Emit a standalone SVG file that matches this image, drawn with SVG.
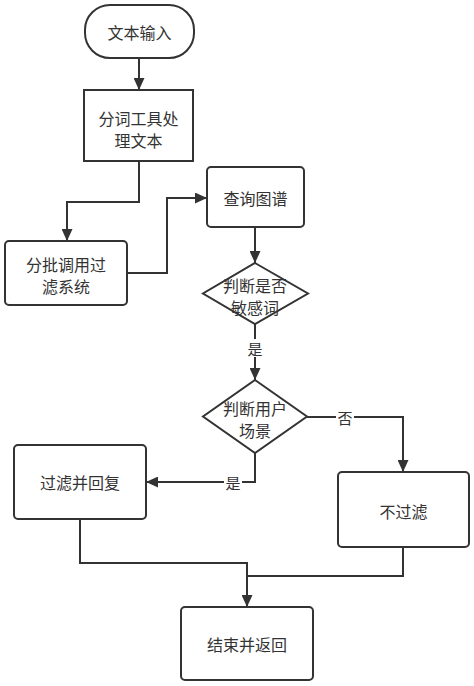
<svg xmlns="http://www.w3.org/2000/svg" width="474" height="686" viewBox="0 0 474 686">
<defs>
<marker id="arr" markerUnits="userSpaceOnUse" markerWidth="12" markerHeight="11" refX="12" refY="5.5" orient="auto">
<path d="M0,0 L12,5.5 L0,11 z" fill="#333"/>
</marker>
<style>
.n{fill:#fff;stroke:#333;stroke-width:2}
.t{font-family:"Noto Sans CJK SC","Noto Sans",sans-serif;font-size:16px;fill:#333;text-anchor:middle;dominant-baseline:central}
.c{fill:none;stroke:#333;stroke-width:2}
.l{font-family:"Noto Sans CJK SC","Noto Sans",sans-serif;font-size:15px;fill:#333;text-anchor:middle;dominant-baseline:central}
.bg{fill:#fff}
</style>
</defs>
<rect width="474" height="686" fill="#fff"/>
<g id="connectors">
<path class="c" d="M139,58 V90" marker-end="url(#arr)"/>
<path class="c" d="M139,161 V202 H67 V241" marker-end="url(#arr)"/>
<path class="c" d="M127,273 H167 V198 H207" marker-end="url(#arr)"/>
<path class="c" d="M255,227 V263" marker-end="url(#arr)"/>
<path class="c" d="M255,324 V380" marker-end="url(#arr)"/>
<path class="c" d="M307,417 H403 V472" marker-end="url(#arr)"/>
<path class="c" d="M255,453 V482 H146" marker-end="url(#arr)"/>
<path class="c" d="M80,519 V563 H247 V607" marker-end="url(#arr)"/>
<path class="c" d="M403,547 V576 H247"/>
<rect class="bg" x="246" y="339" width="18" height="18"/>
<text class="l" x="255" y="348">是</text>
<rect class="bg" x="336" y="408" width="18" height="18"/>
<text class="l" x="345" y="417">否</text>
<rect class="bg" x="224" y="473" width="18" height="18"/>
<text class="l" x="233" y="482">是</text>
</g>
<g id="start">
<rect class="n" x="85" y="5" width="109" height="53" rx="25"/>
<text class="t" x="139.5" y="32">文本输入</text>
</g>
<g id="fenci">
<rect class="n" x="84" y="90" width="109" height="71"/>
<text class="t" x="138.5" y="118">分词工具处</text>
<text class="t" x="138.5" y="140">理文本</text>
</g>
<g id="fenpi">
<rect class="n" x="5" y="241" width="122" height="64" rx="4"/>
<text class="t" x="66" y="264">分批调用过</text>
<text class="t" x="66" y="286">滤系统</text>
</g>
<g id="chaxun">
<rect class="n" x="207" y="167" width="97" height="60" rx="4"/>
<text class="t" x="255.5" y="198">查询图谱</text>
</g>
<g id="d1">
<polygon class="n" points="255,263 308,293.5 255,324 203,293.5"/>
<text class="t" x="255" y="285">判断是否</text>
<text class="t" x="255" y="307">敏感词</text>
</g>
<g id="d2">
<polygon class="n" points="255,380 307,416.5 255,453 203,416.5"/>
<text class="t" x="255" y="408">判断用户</text>
<text class="t" x="255" y="430">场景</text>
</g>
<g id="guolv">
<rect class="n" x="14" y="445" width="132" height="74" rx="4"/>
<text class="t" x="80" y="482">过滤并回复</text>
</g>
<g id="buguolv">
<rect class="n" x="338" y="472" width="131" height="75" rx="4"/>
<text class="t" x="403.5" y="511">不过滤</text>
</g>
<g id="end">
<rect class="n" x="181" y="607" width="132" height="73" rx="4"/>
<text class="t" x="247" y="644">结束并返回</text>
</g>
</svg>
